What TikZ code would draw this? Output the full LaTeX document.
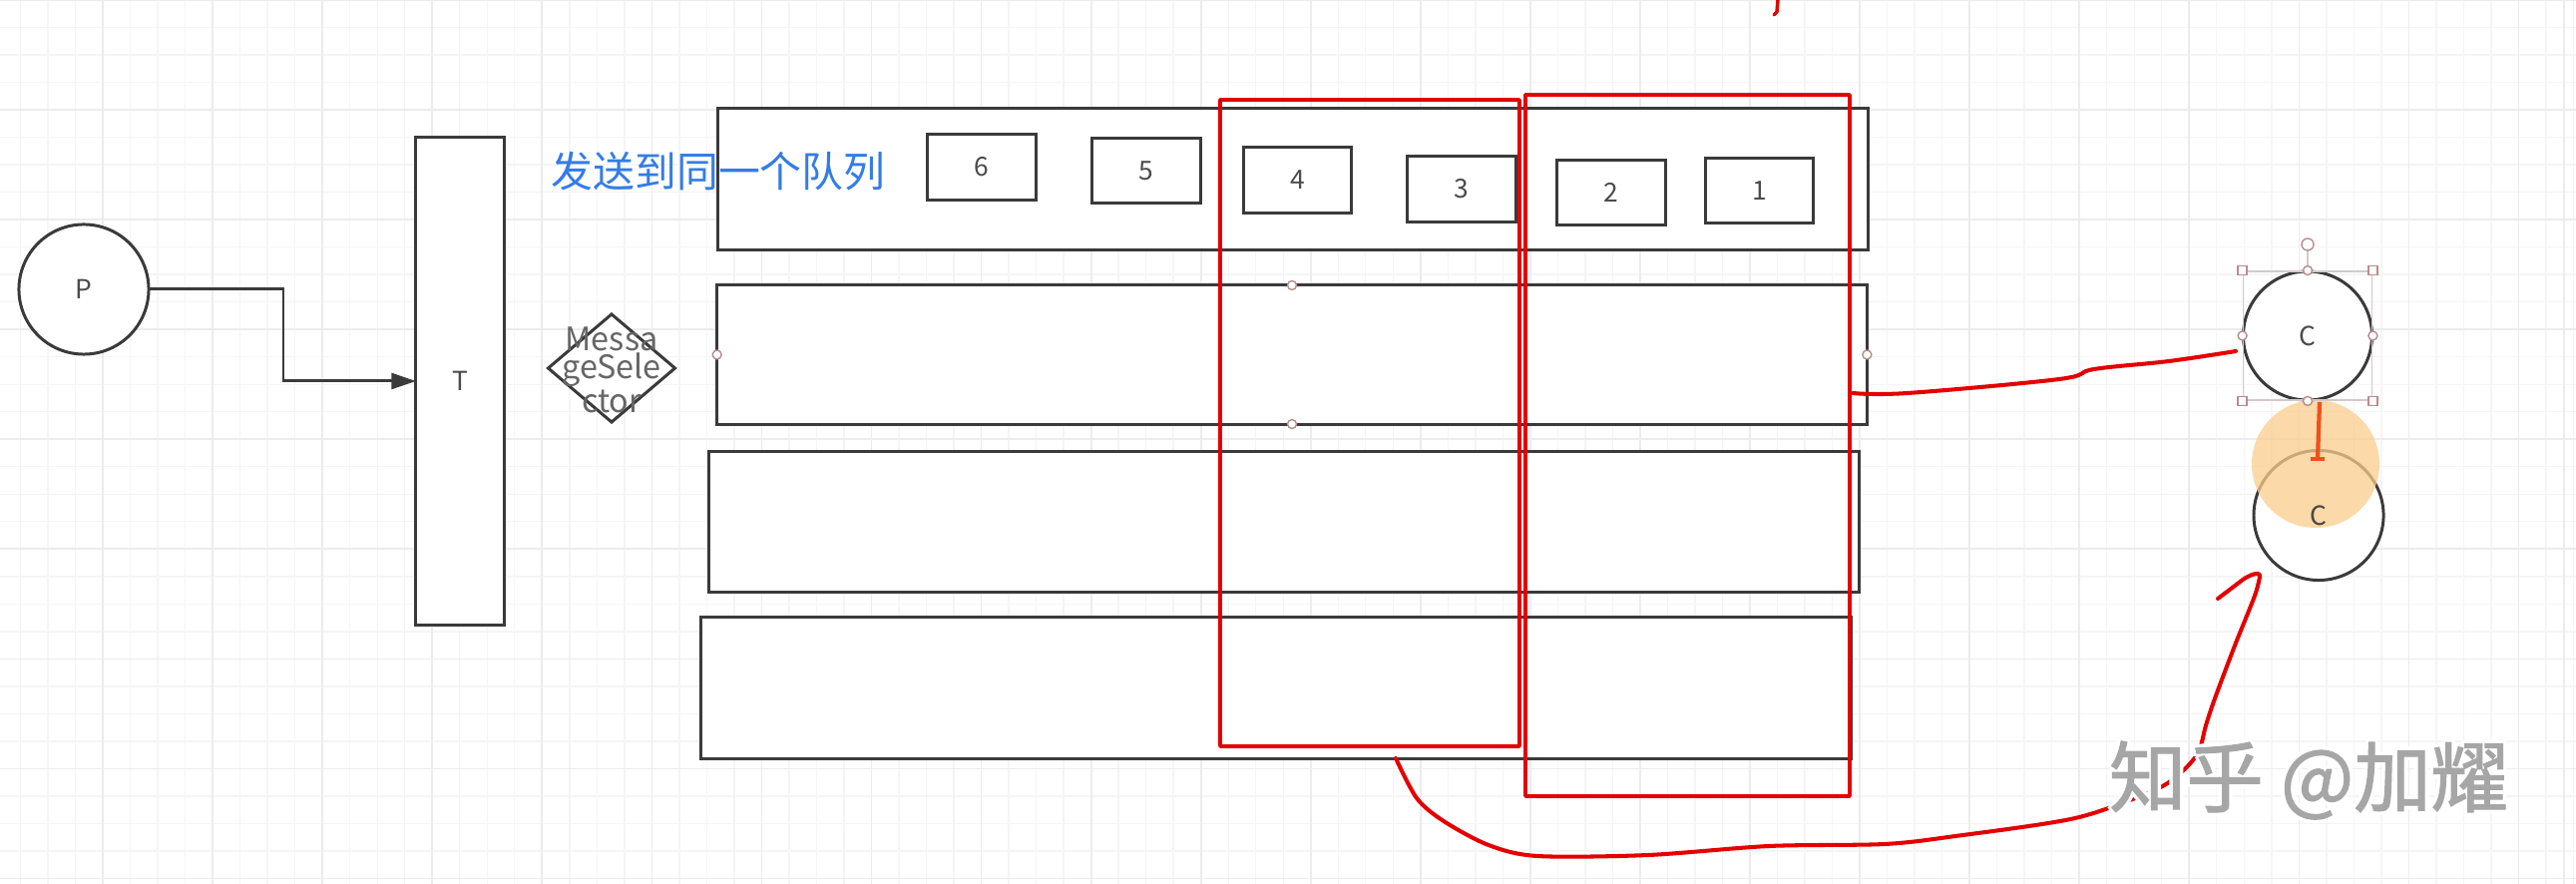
\documentclass[tikz,border=0pt]{standalone}
\usepackage{fontspec}
\newfontfamily\cjk{Noto Sans CJK SC}
\newfontfamily\cjkheavy[FakeBold=1.5]{Noto Sans CJK SC}
\usepackage{tikz}
\usetikzlibrary{shapes.geometric}
\usetikzlibrary{arrows.meta}

\definecolor{linegray}{RGB}{58,58,58}
\definecolor{textgray}{RGB}{75,75,75}
\definecolor{gridminor}{RGB}{245,245,245}
\definecolor{gridmajor}{RGB}{236,236,236}
\definecolor{penred}{RGB}{228,0,0}
\definecolor{titleblue}{RGB}{52,124,230}
\definecolor{hoverorange}{RGB}{250,205,140}
\definecolor{linkorange}{RGB}{240,80,30}
\definecolor{handlepink}{RGB}{185,140,140}
\definecolor{framegray}{RGB}{215,200,200}
\definecolor{wmgray}{RGB}{166,166,166}

\newcommand\lblfont{\cjk\fontsize{7.5}{9}\selectfont}
\newcommand\wmfont{\cjkheavy\fontsize{22}{24}\selectfont}

\tikzset{
  box/.style={draw=linegray, line width=0.85pt, fill=white, inner sep=0pt, outer sep=0pt, font=\lblfont, text=textgray},
  msg/.style={box, minimum width=1.08cm, minimum height=0.65cm},
  queue/.style={box, minimum width=11.52cm},
  redpen/.style={draw=penred, line width=1pt, line cap=round, line join=round},
  pin/.style={draw=handlepink, line width=0.4pt, fill=white},
  selframe/.style={draw=framegray, line width=0.5pt, inner sep=0pt, minimum width=1.29cm, minimum height=1.29cm},
  conn/.style={draw=linegray, line width=0.85pt, -{Triangle[length=7pt,width=4.5pt]}},
}

\begin{document}
\begin{tikzpicture}[x=0.01cm, y=-0.01cm]
        \useasboundingbox (0,0) rectangle (2582,886);
        \fill[white] (0,0) rectangle (2582,886);
        % grid
        \begin{scope}[xshift=0.205cm]
          \draw[gridminor, line width=0.4pt, step=0.275cm] (-20.5,0) grid (2561.5,886);
        \end{scope}
        \begin{scope}[xshift=1.03cm]
          \draw[gridmajor, line width=0.5pt, step=1.1cm] (-103,0) grid (2479,886);
        \end{scope}
        \draw[gridmajor, line width=0.6pt] (2570,0) -- (2570,886);

        % queues
        \node[queue, minimum height=1.41cm] (q1) at (1296,179.5) {};
        \node[queue, minimum height=1.39cm] (q2) at (1295,355.5) {};
        \node[queue, minimum height=1.40cm] (q3) at (1286.75,523) {};
        \node[queue, minimum height=1.41cm] (q4) at (1279,689.5) {};
        \foreach \a in {north,south,west,east}
          \draw[pin] (q2.\a) circle (4.5);

        % messages
        \node[msg] (m6) at (984,167.5) {6};
        \node[msg] (m5) at (1149,171) {5};
        \node[msg] (m4) at (1300.5,180.5) {4};
        \node[msg] (m3) at (1465,189.5) {3};
        \node[msg] (m2) at (1615,192.7) {2};
        \node[msg] (m1) at (1763.5,191) {1};

        \node[text=titleblue, font=\cjk\fontsize{11.9}{13}\selectfont, inner sep=0pt] (title) at (720,172) {发送到同一个队列};

        % producer and topic
        \node[box, circle, minimum size=1.3cm] (P) at (84,290) {P};
        \node[box, minimum width=0.88cm, minimum height=4.88cm] (T) at (461,382) {T};
        \coordinate (Pbend) at (284,290);
        \draw[conn] (P.east) -- (Pbend) |- (T.west);

        % selector
        \node[box, diamond, minimum width=1.27cm, minimum height=1.08cm] (sel) at (613,369) {};
        \node[font=\cjk\fontsize{9.2}{7.9}\selectfont, text=textgray!85, align=center, inner sep=0pt] (seltext) at (613,371) {Messa\\geSele\\ctor};

        % red marks
        \draw[redpen] (1223,100) rectangle (1523,748);
        \draw[redpen] (1529,95) rectangle (1854,798);
        \draw[redpen] (1782,0) -- (1781,12) -- (1778,15);

        % consumers
        \node[box, circle, minimum size=1.29cm] (C1) at (2313,336.5) {C};
        \node[box, circle, minimum size=1.3cm] (C2) at (2324,516.5) {C};
        \fill[hoverorange, opacity=0.75] (2321,465) circle (64);
        \node[text=textgray] (C2lbl) at (C2) {\lblfont C};

        \draw[redpen, line width=1.15pt] plot[smooth, tension=0.6] coordinates {(1857,394) (1912,394) (2064,380) (2099,370) (2174,362) (2241,352)};
        \draw[redpen, line width=1.15pt] plot[smooth, tension=0.5] coordinates {(1399,760) (1420,800) (1447,823) (1492,847) (1541,858) (1652,857) (1773,848) (1889,846) (1960,838) (2080,820) (2157,793) (2183,777) (2203,755) (2211,727) (2220,700) (2240,647) (2260,597) (2265,578)};
        \draw[redpen, line width=1.15pt] (2265,578) .. controls (2266,572) and (2255,576) .. (2248,581) -- (2223,600);

        % selection frame
        \node[selframe] (C1sel) at (C1) {};
        \coordinate (rot) at (2313,245);
        \draw[framegray, line width=0.6pt] (C1sel.north) -- (rot);
        \draw[pin] (rot) circle (6);
        \foreach \a in {north west,north east,south west,south east}
          \draw[pin] (C1sel.\a) +(-4.5,-4.5) rectangle +(4.5,4.5);
        \foreach \a in {north,south,west,east}
          \draw[pin] (C1sel.\a) circle (4.5);

        \coordinate (linktop) at (2325,403);
        \coordinate (drop) at (2323,460);
        \draw[linkorange, line width=1.2pt] (linktop) -- (drop);
        \draw[linkorange, line width=1.2pt] (drop) +(-7,0) -- +(7,0);

        % watermark
        \foreach \dx/\dy in {1/0,-1/0,0/1,0/-1,0.7/0.7,-0.7/0.7,0.7/-0.7,-0.7/-0.7}
          \node[font=\wmfont, text=white, xshift=\dx pt, yshift=\dy pt] at (2314,782) {知乎 @加耀};
        \node[font=\wmfont, text=wmgray] (wm) at (2314,782) {知乎 @加耀};
\end{tikzpicture}
\end{document}
